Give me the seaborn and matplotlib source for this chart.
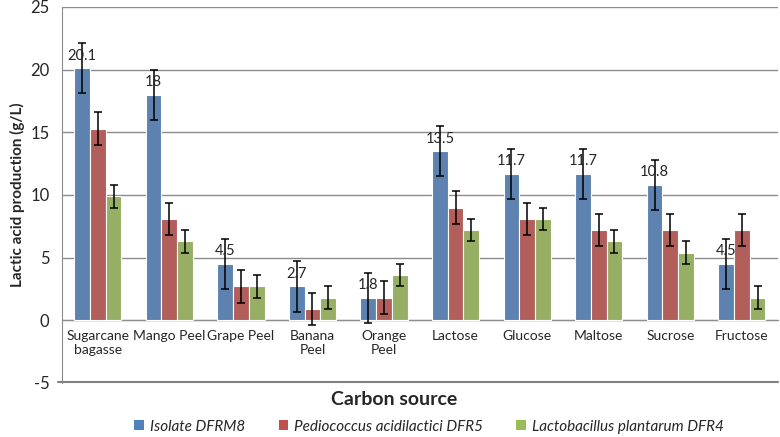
import numpy as np
import pandas as pd
import matplotlib
matplotlib.use('Agg')
import matplotlib.pyplot as plt
from matplotlib.patches import Patch
import seaborn as sns

# 数据
carbon_sources = ['Sugarcane\nbagasse', 'Mango Peel', 'Grape Peel', 'Banana\nPeel', 'Orange\nPeel',
                  'Lactose', 'Glucose', 'Maltose', 'Sucrose', 'Fructose']
strains = ['Isolate DFRM8', 'Pediococcus acidilactici DFR5', 'Lactobacillus plantarum DFR4']
isolate_vals = [20.1, 18.0, 4.5, 2.7, 1.8, 13.5, 11.7, 11.7, 10.8, 4.5]
pedio_vals = [15.3, 8.1, 2.7, 0.9, 1.8, 9.0, 8.1, 7.2, 7.2, 7.2]
lacto_vals = [9.9, 6.3, 2.7, 1.8, 3.6, 7.2, 8.1, 6.3, 5.4, 1.8]
isolate_err = [2.0] * 10
pedio_err = [1.3] * 10
lacto_err = [0.9] * 10
label_vals = ['20.1', '18', '4.5', '2.7', '1.8', '13.5', '11.7', '11.7', '10.8', '4.5']

colors = ['#4F81BD', '#C0504D', '#9BBB59']

sns.set_style('white')
plt.rcParams['font.family'] = ['Lato', 'DejaVu Sans']
plt.rcParams['axes.unicode_minus'] = False

rows = []
for s, vals in zip(strains, [isolate_vals, pedio_vals, lacto_vals]):
    for c, v in zip(carbon_sources, vals):
        rows.append({'source': c, 'strain': s, 'value': v})
df = pd.DataFrame(rows)

fig = plt.figure(figsize=(7.8, 4.37), dpi=100)
ax = fig.add_axes([0.0795, 0.1236, 0.9175, 0.8604])

sns.barplot(data=df, x='source', y='value', hue='strain', order=carbon_sources,
            hue_order=strains, palette=colors, width=0.66, errorbar=None,
            edgecolor='white', linewidth=0.8, ax=ax, legend=False, zorder=3)

# 误差线和数据标签
for cont, errs in zip(ax.containers, [isolate_err, pedio_err, lacto_err]):
    xs = [b.get_x() + b.get_width() / 2 for b in cont]
    hs = [b.get_height() for b in cont]
    ax.errorbar(xs, hs, yerr=errs, fmt='none', ecolor='black', elinewidth=1.1,
                capsize=3, capthick=1.1, zorder=4)

for b, txt in zip(ax.containers[0], label_vals):
    ax.annotate(txt, (b.get_x() + b.get_width() / 2, b.get_height()), xytext=(0, 4),
                textcoords='offset points', ha='center', va='bottom', fontsize=10.5, zorder=5)

ax.set_ylim(-5, 25)
ax.set_yticks(range(-5, 26, 5))
ax.set_xlim(-0.5, len(carbon_sources) - 0.5)
ax.yaxis.grid(True, color='#8c8c8c', linewidth=1, zorder=0)
ax.set_axisbelow(True)

ax.spines['bottom'].set_position(('data', 0))
ax.spines['bottom'].set_color('#8c8c8c')
ax.spines['left'].set_color('#8c8c8c')
ax.spines['top'].set_visible(False)
ax.spines['right'].set_visible(False)

# 底部 -5 处的网格线（稍微伸出y轴左侧）
ax.plot([-0.006, 1.0], [0.002, 0.002], transform=ax.transAxes, color='#808080',
        linewidth=1.5, clip_on=False, zorder=6)

ax.tick_params(axis='x', which='major', length=0, pad=7, labelsize=10)
ax.set_xticks(np.arange(-0.5, len(carbon_sources)), minor=True)
ax.tick_params(axis='x', which='minor', length=5, color='#8c8c8c', direction='out')
ax.tick_params(axis='y', length=0, pad=9, labelsize=12)
for lab in ax.get_xticklabels():
    lab.set_verticalalignment('top')

ax.set_xlabel('')
ax.set_ylabel('Lactic acid production (g/L)', fontsize=11, fontweight='bold', labelpad=4)
fig.text(0.505, 0.085, 'Carbon source', ha='center', va='center', fontsize=14, fontweight='bold')

handles = [Patch(facecolor=c, edgecolor='none') for c in colors]
fig.legend(handles, strains, loc='center', bbox_to_anchor=(0.55, 0.024), ncol=3, frameon=False,
           prop={'style': 'italic', 'size': 11}, handlelength=0.6, handleheight=0.6,
           handletextpad=0.4, columnspacing=2.2)

fig.savefig('out.png', dpi=100)
